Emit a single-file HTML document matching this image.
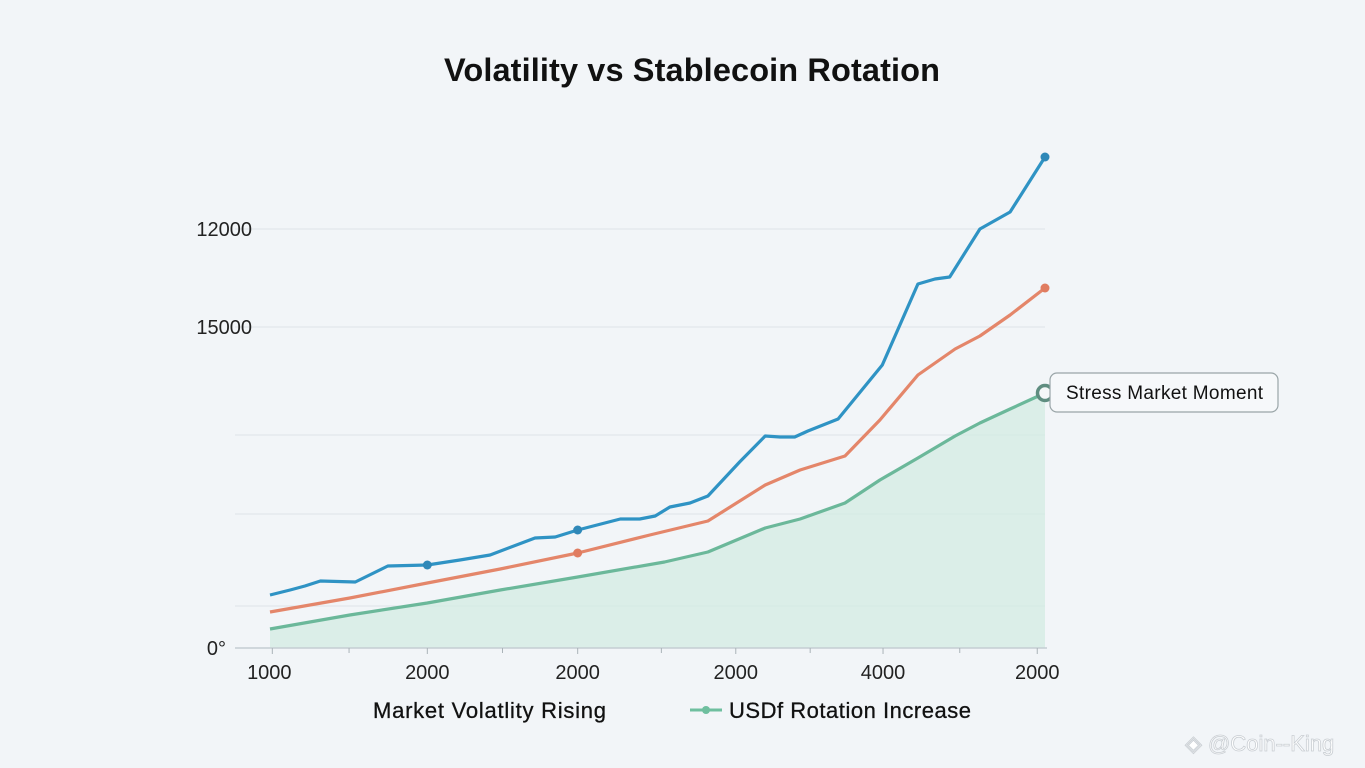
<!DOCTYPE html>
<html><head><meta charset="utf-8">
<style>
html,body{margin:0;padding:0;background:#f1f5f9;}
svg{display:block;font-family:"Liberation Sans",sans-serif;}
</style></head>
<body>
<svg id="chart" width="1365" height="768" viewBox="0 0 1365 768">
<rect width="1365" height="768" fill="#f2f5f8"/>
<text x="692" y="81" text-anchor="middle" font-size="32.5" font-weight="bold" fill="#111" textLength="496">Volatility vs Stablecoin Rotation</text>
<g id="grid"></g>
<g id="plot"></g>
<g id="axes"></g>
<g>
<text x="373" y="718" font-size="22" fill="#111" stroke="#111" stroke-width="0.3" textLength="233">Market Volatlity Rising</text>
<line x1="690" y1="710" x2="722" y2="710" stroke="#6fbf9f" stroke-width="3"/>
<circle cx="706" cy="710" r="4" fill="#6fbf9f"/>
<text x="729" y="718" font-size="22" fill="#111" stroke="#111" stroke-width="0.3" textLength="242">USDf Rotation Increase</text>
</g>
<g>
<rect x="1050" y="373" width="228" height="39" rx="7" fill="#f6f8fa" stroke="#9aa5a8" stroke-width="1.2"/>
<text x="1066" y="399" font-size="19" fill="#111" textLength="197">Stress Market Moment</text>
</g>
<text x="1185" y="751" font-size="22" fill="#fff" stroke="#c9ced3" stroke-width="0.8">◈ @Coin--King</text>
</svg>
<script>
const blueX=[0,2.6,4.5,6.5,11,15.2,20.3,24.5,28.4,34.2,36.8,39.7,45.2,47.7,49.7,51.6,54.2,56.5,60.6,63.9,65.8,67.7,69.4,73.3,79,83.6,85.8,87.7,91.6,95.5,100];
const blueY=[10.6,11.6,12.4,13.4,13.2,16.4,16.6,17.6,18.6,22,22.2,23.6,25.8,25.8,26.4,28.2,29,30.4,37.2,42.4,42.2,42.2,43.4,45.8,56.6,72.8,73.8,74.2,83.8,87.2,98.2];
const orangeX=[0,10.3,20.3,29.7,39.7,49,56.5,63.9,68.4,74.2,78.7,83.6,88.4,91.6,95.5,100];
const orangeY=[7.2,10,13,15.8,19,22.6,25.4,32.6,35.6,38.4,45.6,54.6,59.8,62.4,66.6,72];
const greenX=[0,10.3,20.3,29.7,39.7,50.9,56.5,63.9,68.4,74.2,78.7,83.6,88.4,91.6,95.5,100];
const greenY=[3.8,6.6,9,11.6,14.2,17.2,19.2,24,25.8,29,33.6,38,42.4,45,47.8,51];
const blueMarkers=[6,11,30];
const orangeMarkers=[4,15];
const yTickVals=[83.8,64.2,0];
const yTickLabels=["12000","15000","0°"];
const gridVals=[83.8,64.2,42.6,26.8,8.4];
const xTickVals=[0.3,20.3,39.7,60.1,79.1,99];
const xTickLabels=["1000","2000","2000","2000","4000","2000"];
const xMinorVals=[10.2,30,50.5,69.7,89];

const X0=270,X1=1045,Y0=648,Y1=148;
const sx=v=>X0+(X1-X0)*v/100;
const sy=v=>Y0-(Y0-Y1)*v/100;
const NS="http://www.w3.org/2000/svg";
function mk(tag,attrs,parent){const e=document.createElementNS(NS,tag);for(const k in attrs)e.setAttribute(k,attrs[k]);parent.appendChild(e);return e;}
const grid=document.getElementById('grid'),plot=document.getElementById('plot'),axes=document.getElementById('axes');

gridVals.forEach(v=>{
 const l=mk('line',{x1:235,x2:1045,y1:sy(v),y2:sy(v),stroke:'#dde3e8','stroke-width':1},grid);
 
 
});

const pts=(xs,ys)=>xs.map((x,i)=>sx(x).toFixed(1)+','+sy(ys[i]).toFixed(1)).join(' ');
const area=mk('polygon',{points:pts(greenX,greenY)+' '+sx(greenX[greenX.length-1])+','+Y0+' '+sx(greenX[0])+','+Y0,fill:'#d3ebe3','fill-opacity':0.75},plot);



const g=mk('polyline',{points:pts(greenX,greenY),fill:'none',stroke:'#6bb89a','stroke-width':3.2,'stroke-linejoin':'round'},plot);


const o=mk('polyline',{points:pts(orangeX,orangeY),fill:'none',stroke:'#e4866a','stroke-width':3.2,'stroke-linejoin':'round'},plot);


const b=mk('polyline',{points:pts(blueX,blueY),fill:'none',stroke:'#2f93c4','stroke-width':3.2,'stroke-linejoin':'round'},plot);



blueMarkers.forEach(i=>{
 const c=mk('circle',{cx:sx(blueX[i]),cy:sy(blueY[i]),r:4.5,fill:'#2f88b8'},plot);
 
 
});
orangeMarkers.forEach(i=>{
 const c=mk('circle',{cx:sx(orangeX[i]),cy:sy(orangeY[i]),r:4.5,fill:'#e07c60'},plot);
 
 
});
const gl=greenX.length-1;
const sm=mk('circle',{cx:sx(greenX[gl]),cy:sy(greenY[gl]),r:7.5,fill:'#f4f7f8',stroke:'#5f8d80','stroke-width':3.5},plot);



const ax=mk('line',{x1:235,x2:1047,y1:Y0,y2:Y0,stroke:'#c5cdd2','stroke-width':1.5},axes);



yTickVals.forEach((v,i)=>{
 const t=mk('text',{x:i==2?226:252,y:sy(v)+7,'text-anchor':'end','font-size':20,fill:'#222'},axes);
 t.textContent=yTickLabels[i];
 
 
});
xTickVals.forEach((v,i)=>{
 const tk=mk('line',{x1:sx(v),x2:sx(v),y1:Y0,y2:Y0+6,stroke:'#aab3b8','stroke-width':1},axes);
 
 
 const t=mk('text',{x:sx(v)-(i==0?3:0),y:679,'text-anchor':'middle','font-size':20,fill:'#222'},axes);
 t.textContent=xTickLabels[i];
 
 
});
xMinorVals.forEach(v=>{
 const tk=mk('line',{x1:sx(v),x2:sx(v),y1:Y0,y2:Y0+5,stroke:'#aab3b8','stroke-width':1},axes);
 
 
});
</script>
</body></html>
